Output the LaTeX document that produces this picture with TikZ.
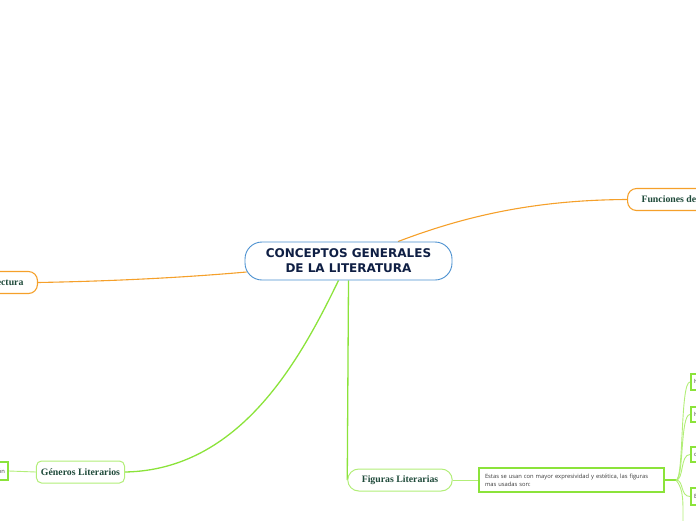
\documentclass[tikz,border=0pt]{standalone}
\usepackage{fontspec}
\usetikzlibrary{backgrounds}
\setmainfont{Liberation Serif}
\newfontfamily\headfont{DejaVu Sans}
\newfontfamily\smallfont{Open Sans}
\definecolor{navy}{HTML}{0F1F44}
\definecolor{cblue}{HTML}{4A90D0}
\definecolor{corange}{HTML}{F5A02A}
\definecolor{gbright}{HTML}{8BE33A}
\definecolor{glight}{HTML}{B2EE78}
\definecolor{tgreen}{HTML}{1F4A3A}
\definecolor{tgray}{HTML}{3A3A3A}
\tikzset{
  centralbox/.style={draw=cblue, line width=0.9pt, rounded corners=17pt, fill=white,
    minimum width=207pt, minimum height=38pt, align=center, text=navy,
    font=\headfont\bfseries\fontsize{12}{15}\selectfont},
  obranch/.style={draw=corange, line width=1.1pt, rounded corners=9pt, fill=white,
    minimum height=22pt, inner xsep=14pt, text=tgreen,
    font=\bfseries\fontsize{9.8}{11}\selectfont},
  gbranch/.style={draw=glight, line width=1pt, rounded corners=5pt, fill=white,
    minimum height=22pt, inner xsep=4.5pt, text=tgreen,
    font=\bfseries\fontsize{9.8}{11}\selectfont},
  figbranch/.style={gbranch, rounded corners=11pt, inner xsep=14pt},
  leafbox/.style={draw=gbright, line width=2pt, fill=white, text=tgray,
    font=\smallfont\fontsize{5.8}{8}\selectfont, inner xsep=3pt},
  olink/.style={draw=corange, line width=1.1pt},
  glink/.style={draw=gbright, line width=1.3pt},
  gthin/.style={draw=glight, line width=0.9pt},
}
\begin{document}
\begin{tikzpicture}[x=1pt,y=-1pt]
\useasboundingbox (0,0) rectangle (696,520);
\clip (0,0) rectangle (696,520);

\node[centralbox] (c) at (348.5,261) {CONCEPTOS GENERALES\\DE LA LITERATURA};
\node[obranch, anchor=west] (fun) at (627,199.5) {Funciones de la Literatura};
\node[obranch, anchor=east] (lec) at (38,282.5) {Lectura};
\node[gbranch, anchor=center] (gen) at (80.5,472) {Géneros Literarios};
\node[figbranch, anchor=center] (fig) at (400,480) {Figuras Literarias};
\node[leafbox, anchor=east, minimum height=18pt] (gch) at (9,471) {Narración};
\node[leafbox, anchor=west, minimum width=185pt, minimum height=24pt,
  text width=173pt, inner xsep=6pt, align=left] (est) at (478,480)
  {Estas se usan con mayor expresividad y estética, las figuras\\mas usadas son:};
\node[leafbox, anchor=west, minimum height=16pt] (f1) at (690,382) {Hipérbole};
\node[leafbox, anchor=west, minimum height=15pt] (f2) at (690,414.5) {Hipérbaton};
\node[leafbox, anchor=west, minimum height=15pt] (f3) at (690,454.5) {comparación};
\node[leafbox, anchor=west, minimum height=17pt] (f4) at (690,496.5) {Epíteto};
\coordinate (fan) at (676,480);
\coordinate (down) at (683,530);

\begin{scope}[on background layer]
\path[olink] ([xshift=49.5pt]c.north) .. controls (470,214) and (540,200) .. (fun.west);
\path[olink] (lec.east) .. controls (120,281) and (190,277) .. ([xshift=2pt,yshift=-11pt]c.west);
\path[glink] ([xshift=-10pt]c.south) .. controls (300,360) and (240,470) .. (gen.east);
\path[glink] (c.south) -- (fig.west);
\path[gthin] (fig.east) -- (est.west);
\path[gthin] (gch.east) -- (gen.west);
\path[glink] (est.east) -- (fan);
\path[gthin] (fan) .. controls (684,480) and (680,382) .. (f1.west);
\path[gthin] (fan) .. controls (684,480) and (680,414.5) .. (f2.west);
\path[gthin] (fan) .. controls (684,480) and (680,454.5) .. (f3.west);
\path[gthin] (fan) .. controls (684,480) and (680,496.5) .. (f4.west);
\path[gthin] (fan) .. controls (684,490) and (683,500) .. (down);
\end{scope}
\end{tikzpicture}
\end{document}
